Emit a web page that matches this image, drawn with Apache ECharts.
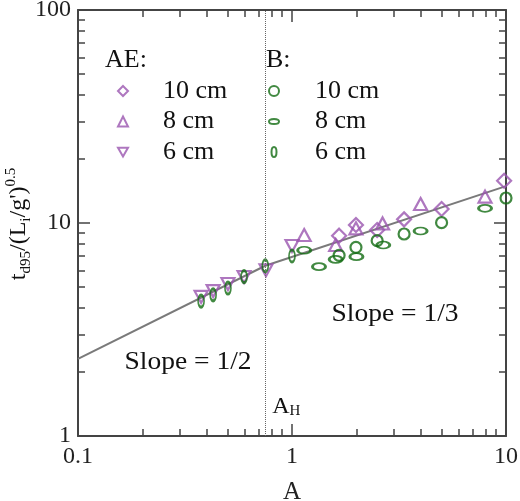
<!DOCTYPE html>
<html><head><meta charset="utf-8">
<script src="https://cdn.jsdelivr.net/npm/echarts@6/dist/echarts.min.js"></script>
<style>html,body{margin:0;padding:0;background:#fff}#c{width:520px;height:501px}</style>
</head><body><div id="c"></div>
<script>
// ---- data ----
const xRange = [0.1, 10];
const yRange = [1, 100];
const A_H = 0.75;
const fitLine = [[0.1, 2.3], [0.75, 6.3], [10, 14.9]];
const ae10 = [[1.66, 8.72], [1.99, 9.79], [2.5, 9.27], [3.34, 10.4], [5.0, 11.63], [9.8, 15.8]];
const ae8  = [[1.14, 8.78], [1.60, 7.88], [1.99, 9.44], [2.65, 9.95], [3.99, 12.28], [7.98, 13.3]];
const ae6  = [[0.376, 4.5], [0.428, 4.79], [0.502, 5.17], [0.597, 5.58], [0.756, 6.0], [1.0, 7.8]];
const b10  = [[1.66, 7.05], [1.99, 7.69], [2.5, 8.26], [3.34, 8.88], [5.0, 10.04], [10, 13.1]];
const b8   = [[1.14, 7.45], [1.337, 6.24], [1.60, 6.75], [2.0, 6.95], [2.67, 7.88], [3.99, 9.17], [7.98, 11.72]];
const b6   = [[0.376, 4.3], [0.428, 4.6], [0.502, 4.95], [0.597, 5.6], [0.75, 6.3], [1.0, 7.0]];

const purple = '#9a55af';
const green = '#116b11';
const serif = '"Liberation Serif", "Times New Roman", serif';
const ellH = 'path://M0,5A10,5 0 1 1 20,5A10,5 0 1 1 0,5Z';
const ellV = 'path://M5,0A5,10 0 1 1 5,20A5,10 0 1 1 5,0Z';
const triDown = 'path://M0,0L16,0L8,14Z';

const chart = echarts.init(document.getElementById('c'), null, {renderer: 'canvas'});

function axisBase(pos, min, max, labels) {
  return {
    type: 'log', logBase: 10, position: pos, min: min, max: max,
    axisLine: {show: true, onZero: false, lineStyle: {color: '#444', width: 2}},
    axisTick: {show: true, inside: true, length: 12, lineStyle: {color: '#444', width: 1.5}},
    minorTick: {show: true, splitNumber: 9, length: 7, lineStyle: {color: '#444', width: 1.5}},
    splitLine: {show: false}, minorSplitLine: {show: false},
    axisLabel: labels ? {show: true, fontFamily: serif, fontSize: 24, color: '#222', margin: 7} : {show: false}
  };
}

function scat(name, data, symbol, size, color, rotate) {
  return {
    type: 'scatter', name: name, data: data, symbol: symbol, symbolSize: size,
    symbolRotate: rotate || 0, clip: false, z: 3,
    itemStyle: {color: 'rgba(255,255,255,0)', borderColor: color, borderWidth: 2.2}
  };
}

const xb = axisBase('bottom', xRange[0], xRange[1], true);
xb.name = 'A'; xb.nameLocation = 'middle'; xb.nameGap = 44;
xb.nameTextStyle = {fontFamily: serif, fontSize: 25, color: '#222'};
xb.axisLabel.margin = 9;

function legendStyle(pad) {
  return {fontFamily: serif, fontSize: 26, color: '#111', padding: [0, 0, 0, pad]};
}

chart.setOption({
  animation: false,
  backgroundColor: '#fff',
  grid: {left: 78, right: 14, top: 10, bottom: 65, containLabel: false, outerBoundsMode: 'none'},
  xAxis: [xb, axisBase('top', xRange[0], xRange[1], false)],
  yAxis: [axisBase('left', yRange[0], yRange[1], true), axisBase('right', yRange[0], yRange[1], false)],
  legend: [
    {left: 117, top: 78, padding: 0, orient: 'vertical', itemGap: 4.5, itemWidth: 10, itemHeight: 10,
     selectedMode: false, textStyle: legendStyle(30),
     formatter: n => n.replace(/^(AE|B) /, ''),
     data: [{name: 'AE 10 cm'}, {name: 'AE 8 cm'}, {name: 'AE 6 cm', icon: triDown}]},
    {left: 268, top: 78, padding: 0, orient: 'vertical', itemGap: 4.5, itemWidth: 10, itemHeight: 10,
     selectedMode: false, textStyle: legendStyle(31),
     formatter: n => n.replace(/^(AE|B) /, ''),
     data: [{name: 'B 10 cm'}, {name: 'B 8 cm', icon: ellH}, {name: 'B 6 cm', icon: ellV}]}
  ],
  series: [
    {type: 'line', name: 'fit', data: fitLine, symbol: 'none', z: 2,
     lineStyle: {color: '#7a7a7a', width: 2},
     markLine: {silent: true, symbol: 'none', label: {show: false},
       lineStyle: {type: 'dotted', color: '#666', width: 1},
       data: [{xAxis: A_H}]}},
    scat('AE 10 cm', ae10, 'diamond', 14, purple),
    scat('AE 8 cm', ae8, 'triangle', [13, 12], purple),
    scat('AE 6 cm', ae6, 'triangle', [13, 12], purple, 180),
    scat('B 10 cm', b10, 'circle', 11, green),
    scat('B 8 cm', b8, 'circle', [13, 7], green),
    scat('B 6 cm', b6, 'circle', [6, 12], green)
  ]
});

const ah = chart.convertToPixel({xAxisIndex: 0, yAxisIndex: 0}, [A_H, 1]);
chart.setOption({
  graphic: [
    {type: 'text', left: 105, top: 47, style: {text: 'AE:', font: '26px ' + serif, fill: '#111'}},
    {type: 'text', left: 266, top: 47, style: {text: 'B:', font: '26px ' + serif, fill: '#111'}},
    {type: 'text', x: 188, y: 362, scaleX: 1.1, style: {text: 'Slope = 1/2', font: '25px ' + serif, fill: '#111', align: 'center', verticalAlign: 'middle'}},
    {type: 'text', x: 395, y: 314, scaleX: 1.1, style: {text: 'Slope = 1/3', font: '25px ' + serif, fill: '#111', align: 'center', verticalAlign: 'middle'}},
    {type: 'text', x: ah[0] + 7, y: ah[1] - 17, style: {
      text: 'A{s|H}', font: '24px ' + serif, fill: '#111', align: 'left', verticalAlign: 'bottom',
      rich: {s: {fontSize: 15, fontFamily: serif, verticalAlign: 'bottom', lineHeight: 24, fill: '#111'}}}},
    {type: 'text', x: 19, y: 224, rotation: Math.PI / 2, style: {
      text: "t{s|d95}/(L{s|i}/g'){p|0.5}", font: '24px ' + serif, fill: '#111',
      align: 'center', verticalAlign: 'middle', lineHeight: 30,
      rich: {
        s: {fontSize: 15, fontFamily: serif, verticalAlign: 'bottom', fill: '#111'},
        p: {fontSize: 15, fontFamily: serif, verticalAlign: 'top', fill: '#111'}
      }}}
  ]
});
</script>
</body></html>
